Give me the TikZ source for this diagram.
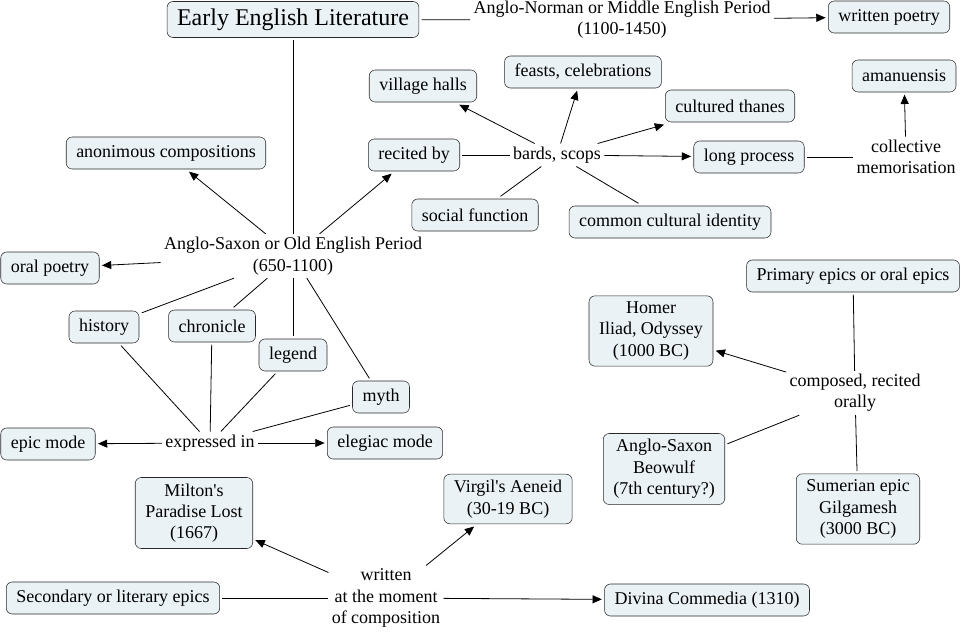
\documentclass[tikz,border=0pt]{standalone}
\usepackage{fontspec}
\setmainfont{Liberation Serif}
\usetikzlibrary{arrows.meta}
\definecolor{CmapFill}{RGB}{234,242,245}
\definecolor{CmapEdge}{RGB}{40,40,40}

\begin{document}
\begin{tikzpicture}[
  x=0.75pt, y=-0.75pt,
  font=\fontsize{13.5pt}{16pt}\selectfont,
  >={Triangle[length=7pt, width=6pt]},
  concept/.style={draw=CmapEdge, fill=CmapFill, rounded corners=4.5pt, align=center,
                  inner xsep=7.5pt, inner ysep=4.5pt, minimum height=24pt, outer sep=2pt},
  title/.style={concept, font=\fontsize{18pt}{21pt}\selectfont, minimum height=27pt},
  phrase/.style={align=center, inner sep=1.5pt, outer sep=1pt},
  arr/.style={->, line width=0.6pt},
  tie/.style={line width=0.6pt},
]
\useasboundingbox (0,0) rectangle (964,632);

% ============ TOP: the two periods ============
\node[title] (eel) at (293,19.5) {Early English Literature};
\node[phrase] (norman) at (622,20) {Anglo-Norman or Middle English Period\\(1100-1450)};
\node[concept] (wpoetry) at (889,17) {written poetry};
\draw[tie] (eel) -- (norman);
\draw[arr] (norman) -- (wpoetry);

% ============ OLD ENGLISH PERIOD ============
\node[phrase] (saxon) at (293,256) {Anglo-Saxon or Old English Period\\(650-1100)};
\node[concept] (anon) at (166,153) {anonimous compositions};
\node[concept] (recited) at (414,155) {recited by};
\node[concept] (oral) at (50,268) {oral poetry};
\draw[tie] (eel) -- (saxon);
\draw[arr] (saxon) -- (anon);
\draw[arr] (saxon) -- (recited);
\draw[arr] (saxon) -- (oral);

% genres and modes
\node[concept] (history) at (104,327) {history};
\node[concept] (chronicle) at (212,326) {chronicle};
\node[concept] (legend) at (293,355) {legend};
\node[concept] (myth) at (381,397) {myth};
\node[phrase] (expressed) at (210,443) {expressed in};
\node[concept] (epic) at (48,444) {epic mode};
\node[concept] (elegiac) at (385,443) {elegiac mode};
\foreach \g in {history,chronicle,legend,myth} {
  \draw[tie] (saxon) -- (\g);
  \draw[tie] (\g) -- (expressed);
}
\draw[arr] (expressed) -- (epic);
\draw[arr] (expressed) -- (elegiac);

% ============ BARDS, SCOPS ============
\node[phrase] (bards) at (557,155) {bards, scops};
\node[concept] (halls) at (423,86) {village halls};
\node[concept] (feasts) at (583,72) {feasts, celebrations};
\node[concept] (thanes) at (730,106) {cultured thanes};
\node[concept] (process) at (749,157) {long process};
\node[concept] (social) at (475,215) {social function};
\node[concept] (identity) at (670,222) {common cultural identity};
\node[phrase] (memo) at (906,157) {collective\\memorisation};
\node[concept] (amanu) at (904,76) {amanuensis};
\draw[tie] (recited) -- (bards);
\foreach \t in {halls,feasts,thanes,process}
  \draw[arr] (bards) -- (\t);
\draw[tie] (bards) -- (social);
\draw[tie] (bards) -- (identity);
\draw[tie] (process) -- (memo);
\draw[arr] (memo) -- (amanu);

% ============ PRIMARY EPICS ============
\node[concept] (primary) at (853,276) {Primary epics or oral epics};
\node[phrase] (composed) at (855,393) {composed, recited\\orally};
\node[concept] (homer) at (651,331) {Homer\\Iliad, Odyssey\\(1000 BC)};
\node[concept] (beowulf) at (664,469) {Anglo-Saxon\\Beowulf\\(7th century?)};
\node[concept] (sumer) at (858,509) {Sumerian epic\\Gilgamesh\\(3000 BC)};
\draw[tie] (primary) -- (composed);
\draw[arr] (composed) -- (homer);
\draw[tie] (composed) -- (beowulf);
\draw[tie] (composed) -- (sumer);

% ============ SECONDARY EPICS ============
\node[concept] (secondary) at (113,598) {Secondary or literary epics};
\node[phrase] (writtenat) at (386,598) {written\\at the moment\\of composition};
\node[concept] (milton) at (194,513) {Milton\textquotesingle s\\Paradise Lost\\(1667)};
\node[concept] (virgil) at (508,499) {Virgil\textquotesingle s Aeneid\\(30-19 BC)};
\node[concept] (divina) at (707,600) {Divina Commedia (1310)};
\draw[tie] (secondary) -- (writtenat);
\draw[arr] (writtenat) -- (milton);
\draw[arr] (writtenat) -- (virgil);
\draw[arr] (writtenat) -- (divina);

\end{tikzpicture}
\end{document}
